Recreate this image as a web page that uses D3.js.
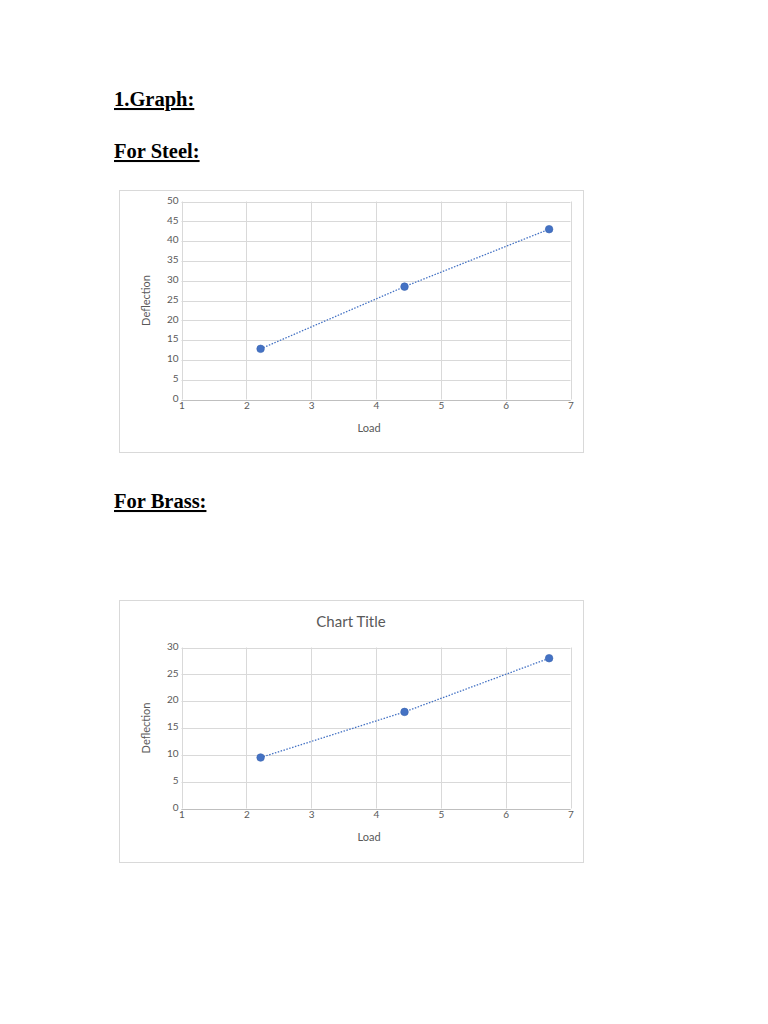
<!DOCTYPE html>
<html>
<head>
<meta charset="utf-8">
<script src="https://cdn.jsdelivr.net/npm/d3@7"></script>
<style>
  body { margin: 0; background: #fff; }
  svg { display: block; }
</style>
</head>
<body>
<div id="page"></div>
<script>
// values
const loads = [2.22, 4.44, 6.67];
const steelDeflection = [12.8, 28.5, 43];
const brassDeflection = [9.5, 18, 28];
const xTicks = [1, 2, 3, 4, 5, 6, 7];
const steelTicks = [0, 5, 10, 15, 20, 25, 30, 35, 40, 45, 50];
const brassTicks = [0, 5, 10, 15, 20, 25, 30];

const width = 768, height = 1024;
const blue = '#4472c4';
const grey = '#595959';

const svg = d3.select('#page')
    .append('svg')
    .attr('width', width)
    .attr('height', height);

// document headings
const headings = [
    { text: '1.Graph:', y: 106 },
    { text: 'For Steel:', y: 158 },
    { text: 'For Brass:', y: 508 }
];
svg.selectAll('text.heading')
    .data(headings)
    .enter()
    .append('text')
    .attr('class', 'heading')
    .attr('x', 114)
    .attr('y', d => d.y)
    .style('font-family', '"Liberation Serif", serif')
    .style('font-weight', 'bold')
    .style('font-size', '20.5px')
    .style('text-decoration', 'underline')
    .style('fill', '#000')
    .text(d => d.text);

function drawChart(opts) {
    const g = svg.append('g');
    // chart frame
    g.append('rect')
        .attr('x', opts.box.x + 0.5)
        .attr('y', opts.box.y + 0.5)
        .attr('width', opts.box.w)
        .attr('height', opts.box.h)
        .style('fill', '#fff')
        .style('stroke', '#d9d9d9');

    const x = d3.scaleLinear().domain([1, 7]).range([181.5, 570.5]);
    const y = d3.scaleLinear().domain([0, opts.yMax]).range([opts.bottom, opts.top]);

    // grid
    g.selectAll('line.hgrid')
        .data(opts.yTicks)
        .enter()
        .append('line')
        .attr('x1', x(1)).attr('x2', x(7))
        .attr('y1', d => Math.round(y(d)) + 0.5)
        .attr('y2', d => Math.round(y(d)) + 0.5)
        .style('stroke', '#d9d9d9');
    g.selectAll('line.vgrid')
        .data(xTicks)
        .enter()
        .append('line')
        .attr('x1', d => Math.round(x(d)) + 0.5)
        .attr('x2', d => Math.round(x(d)) + 0.5)
        .attr('y1', y(opts.yMax)).attr('y2', y(0))
        .style('stroke', '#d9d9d9');

    // axis labels
    const xAxis = g.append('g')
        .attr('transform', `translate(0, ${y(0)})`)
        .call(d3.axisBottom(x).tickValues(xTicks).tickFormat(d3.format('d')).tickSize(0).tickPadding(4));
    const yAxis = g.append('g')
        .attr('transform', `translate(${x(1)}, -1.5)`)
        .call(d3.axisLeft(y).tickValues(opts.yTicks).tickSize(0).tickPadding(3));
    [xAxis, yAxis].forEach(a => {
        a.select('.domain').remove();
        a.selectAll('text')
            .style('font-family', 'Lato, sans-serif')
            .style('font-size', '10px')
            .style('fill', grey);
    });
    xAxis.selectAll('text').attr('dy', '0.5em');
    g.append('line')
        .attr('x1', x(1)).attr('x2', x(7))
        .attr('y1', Math.round(y(0)) + 0.5).attr('y2', Math.round(y(0)) + 0.5)
        .style('stroke', '#bfbfbf');

    g.append('text')
        .attr('x', 369)
        .attr('y', y(0) + 32)
        .attr('text-anchor', 'middle')
        .style('font-family', 'Lato, sans-serif')
        .style('font-size', '11px')
        .style('fill', grey)
        .text('Load');
    g.append('text')
        .attr('transform', `translate(150, ${(y(0) + y(opts.yMax)) / 2}) rotate(-90)`)
        .attr('text-anchor', 'middle')
        .style('font-family', 'Lato, sans-serif')
        .style('font-size', '11px')
        .style('fill', grey)
        .text('Deflection');

    if (opts.title) {
        g.append('text')
            .attr('x', opts.box.x + opts.box.w / 2)
            .attr('y', opts.box.y + 27)
            .attr('text-anchor', 'middle')
            .style('font-family', 'Lato, sans-serif')
            .style('font-size', '15px')
            .style('fill', grey)
            .text(opts.title);
    }

    const pts = loads.map((l, i) => ({ x: l, y: opts.values[i] }));
    g.append('path')
        .datum(pts)
        .attr('d', d3.line().x(d => x(d.x)).y(d => y(d.y)))
        .style('fill', 'none')
        .style('stroke', blue)
        .style('stroke-width', 1.3)
        .style('stroke-dasharray', '1.5,1.5');
    g.selectAll('circle')
        .data(pts)
        .enter()
        .append('circle')
        .attr('cx', d => x(d.x))
        .attr('cy', d => y(d.y))
        .attr('r', 3.8)
        .style('fill', blue)
        .style('stroke', '#3a64b0')
        .style('stroke-width', 0.6);
}

drawChart({
    box: { x: 119, y: 190, w: 464, h: 262 },
    top: 201.5, bottom: 399.5, yMax: 50,
    yTicks: steelTicks, values: steelDeflection
});
drawChart({
    box: { x: 119, y: 600, w: 464, h: 262 },
    top: 647.5, bottom: 808.5, yMax: 30,
    yTicks: brassTicks, values: brassDeflection,
    title: 'Chart Title'
});
</script>
</body>
</html>
